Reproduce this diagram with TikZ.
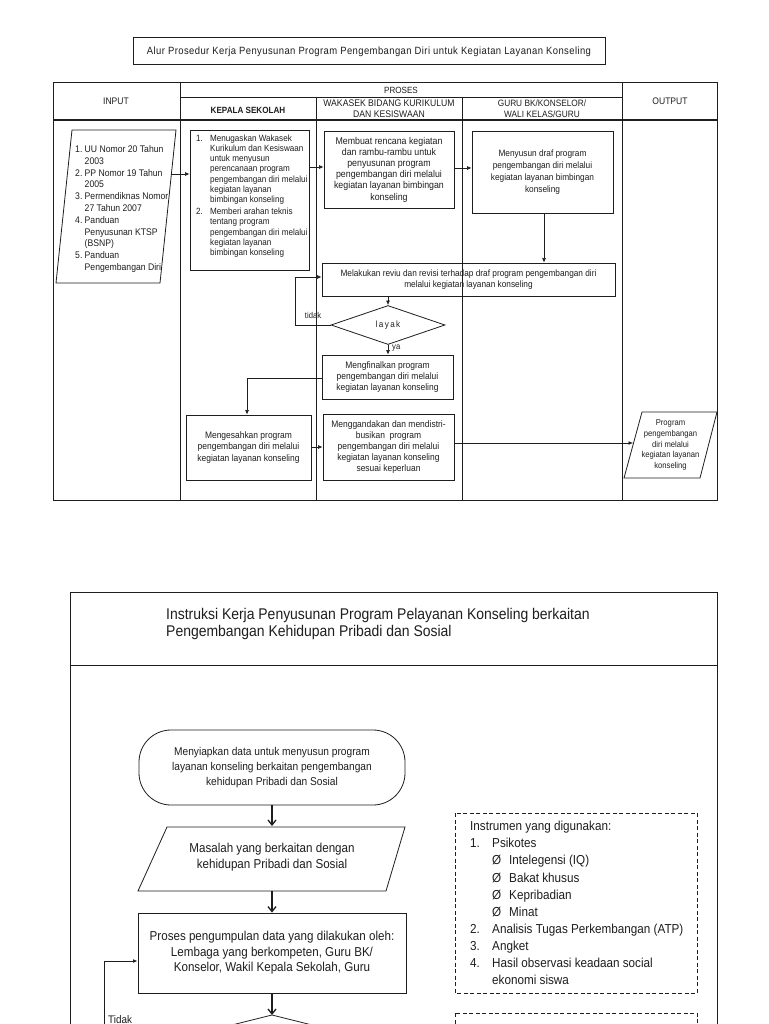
\documentclass[tikz,border=0pt]{standalone}
\usepackage{fontspec}
\setmainfont{Liberation Sans}[FakeStretch=0.9]
\usetikzlibrary{arrows.meta,shapes.geometric}
\definecolor{ink}{HTML}{1E1E1E}
\begin{document}
\begin{tikzpicture}[x=1pt,y=-1pt,
  ln/.style={draw=ink,line width=0.8pt},
  arr/.style={draw=ink,line width=0.6pt,-{Latex[length=4.5pt,width=3.8pt]}},
  barr/.style={draw=ink,line width=1.3pt,-{Straight Barb[length=5pt,width=8pt]}},
  box/.style={draw=ink,line width=0.8pt,inner sep=0pt,text=ink,align=center},
  fs/.style 2 args={font=\fontsize{#1}{#2}\selectfont},
  txt/.style={text=ink,inner sep=0pt},
  dbox/.style={draw=ink,line width=0.9pt,dash pattern=on 4pt off 2.5pt}
]
\clip (0,0) rectangle (768,1024);
\fill[white] (0,0) rectangle (768,1024);

% ---------- top: title ----------
\node[box,line width=1pt,minimum width=472pt,minimum height=27pt,fs={10.5}{12}] (title) at (369,51.5)
  {{\addfontfeature{LetterSpace=4}Alur Prosedur Kerja Penyusunan Program Pengembangan Diri untuk Kegiatan Layanan Konseling}};

% ---------- table ----------
\draw[ln] (53,82) rectangle (717,500);
\draw[ln] (180,82) -- (180,500);
\draw[ln] (622,82) -- (622,500);
\draw[ln] (316,97) -- (316,500);
\draw[ln] (462,97) -- (462,500);
\draw[ln] (180,97) -- (622,97);
\draw[ln,line width=1.1pt] (53,120) -- (717,120);

\node[txt,fs={9.5}{11}] (hin) at (116,101) {INPUT};
\node[txt,fs={9.5}{11}] (hout) at (670,101) {OUTPUT};
\node[txt,fs={9}{11}] (hpro) at (401,90) {PROSES};
\node[txt,font={\fontsize{9}{11}\selectfont\bfseries}] (hkep) at (248,110) {KEPALA SEKOLAH};
\node[txt,align=center,fs={9.6}{10.5}] (hwak) at (389,108.5) {WAKASEK BIDANG KURIKULUM\\DAN KESISWAAN};
\node[txt,align=center,fs={9.2}{10.5}] (hguru) at (542,108.5) {GURU BK/KONSELOR/\\WALI KELAS/GURU};

% ---------- input ----------
\draw[ln] (72,130) -- (176,130) -- (160,283) -- (56,283) -- cycle;
\node[txt,align=left,anchor=west,fs={9.6}{11.8}] (inp) at (75,209)
  {\makebox[9.5pt][l]{1.}UU Nomor 20 Tahun\\\makebox[9.5pt]{}2003\\
   \makebox[9.5pt][l]{2.}PP Nomor 19 Tahun\\\makebox[9.5pt]{}2005\\
   \makebox[9.5pt][l]{3.}Permendiknas Nomor\\\makebox[9.5pt]{}27 Tahun 2007\\
   \makebox[9.5pt][l]{4.}Panduan\\\makebox[9.5pt]{}Penyusunan KTSP\\\makebox[9.5pt]{}(BSNP)\\
   \makebox[9.5pt][l]{5.}Panduan\\\makebox[9.5pt]{}Pengembangan Diri};
\coordinate (inout) at (171,174);

% ---------- kepala sekolah ----------
\node[box,minimum width=119pt,minimum height=140pt] (k1) at (249.5,200) {};
\node[txt,align=left,anchor=west,fs={9}{10.2}] (k1t) at (196,196)
  {\makebox[14pt][l]{1.}Menugaskan Wakasek\\\makebox[14pt]{}Kurikulum dan Kesiswaan\\
   \makebox[14pt]{}untuk menyusun\\\makebox[14pt]{}perencanaan program\\
   \makebox[14pt]{}pengembangan diri melalui\\\makebox[14pt]{}kegiatan layanan\\
   \makebox[14pt]{}bimbingan konseling\\[2pt]
   \makebox[14pt][l]{2.}Memberi arahan teknis\\\makebox[14pt]{}tentang program\\
   \makebox[14pt]{}pengembangan diri melalui\\\makebox[14pt]{}kegiatan layanan\\
   \makebox[14pt]{}bimbingan konseling};

\node[box,minimum width=130pt,minimum height=77pt,fs={9.8}{11.2}] (w1) at (389,169.5)
  {Membuat rencana kegiatan\\dan rambu-rambu untuk\\penyusunan program\\pengembangan diri melalui\\kegiatan layanan bimbingan\\konseling};
\node[box,minimum width=141pt,minimum height=82pt,fs={9.2}{11.8}] (g1) at (542.5,172)
  {Menyusun draf program\\pengembangan diri melalui\\kegiatan layanan bimbingan\\konseling};
\node[box,minimum width=293pt,minimum height=33pt,fs={9.2}{11.7}] (rev) at (468.5,279.5)
  {Melakukan reviu dan revisi terhadap draf program pengembangan diri\\melalui kegiatan layanan konseling};
\node[draw=ink,line width=0.8pt,shape=diamond,aspect=2.9,minimum width=114pt,minimum height=39pt,inner sep=0pt,text=ink,fs={9}{10}] (lay) at (388,325)
  {{\addfontfeature{LetterSpace=15}layak}};
\node[box,minimum width=131pt,minimum height=44pt,fs={9.4}{11.3}] (fin) at (387.5,377)
  {Mengfinalkan program\\pengembangan diri melalui\\kegiatan layanan konseling};
\node[box,minimum width=125pt,minimum height=65pt,fs={9.4}{11.3}] (sah) at (248.5,447.5)
  {Mengesahkan program\\pengembangan diri melalui\\kegiatan layanan konseling};
\node[box,minimum width=131pt,minimum height=66pt,fs={9.4}{11.2}] (gand) at (388.5,447)
  {Menggandakan dan mendistri-\\busikan\ \ program\\pengembangan diri melalui\\kegiatan layanan konseling\\sesuai keperluan};

% output
\draw[ln] (642,412) -- (717,412) -- (700,478) -- (624,478) -- cycle;
\node[txt,align=center,fs={8.5}{10.8}] (outt) at (670.5,445)
  {Program\\pengembangan\\diri melalui\\kegiatan layanan\\konseling};
\coordinate (outin) at (633,443);

% arrows top
\draw[arr] (inout) -- (k1.west |- inout);
\draw[arr] (k1.east |- 0,167) -- (w1.west |- 0,167);
\draw[arr] (w1.east |- 0,168) -- (g1.west |- 0,168);
\draw[arr] (g1.south -| 544,0) -- (rev.north -| 544,0);
\draw[arr] (rev.south -| lay.north) -- (lay.north);
\draw[arr] (lay.south) -- (lay.south |- fin.north);
\draw[arr] (lay.west) -- ++(-35,0) |- (rev.west |- 0,277);
\draw[arr] (fin.west |- 0,378) -| (sah.north -| 247,0);
\draw[arr] (sah.east |- 0,447) -- (gand.west |- 0,447);
\draw[arr] (gand.east |- outin) -- (outin);
\node[txt,fs={8.5}{10}] (tidak) at (313,315) {tidak};
\node[txt,anchor=west,fs={8.5}{10}] (ya) at (392,348) {ya};

% ---------- bottom ----------
\draw[ln] (70,1030) -- (70,592) -- (717,592) -- (717,1030);
\draw[ln] (70,665) -- (717,665);
\node[txt,align=left,anchor=west,fs={15.5}{17}] (t2) at (166,623.5)
  {Instruksi Kerja Penyusunan Program Pelayanan Konseling berkaitan\\Pengembangan Kehidupan Pribadi dan Sosial};

\node[box,rounded corners=32pt,minimum width=266pt,minimum height=75pt,fs={11.3}{15.3}] (term) at (272,767.5)
  {Menyiapkan data untuk menyusun program\\layanan konseling berkaitan pengembangan\\kehidupan Pribadi dan Sosial};
\draw[ln] (167,827) -- (405,827) -- (386,891) -- (138,891) -- cycle;
\node[txt,align=center,fs={12.9}{16.6}] (part) at (272,857)
  {Masalah yang berkaitan dengan\\kehidupan Pribadi dan Sosial};
\coordinate (partop) at (272,826);
\coordinate (parbot) at (272,891);
\node[box,minimum width=268pt,minimum height=80pt,fs={12.9}{15.5}] (proc) at (272,953)
  {Proses pengumpulan data yang dilakukan oleh:\\Lembaga yang berkompeten, Guru BK/\\Konselor, Wakil Kepala Sekolah, Guru};
\coordinate (dtop) at (272,1015);
\draw[ln] (dtop) -- (392,1045) -- (272,1075) -- (152,1045) -- cycle;

\draw[barr] (term.south) -- (partop);
\draw[barr] (parbot) -- (proc.north);
\draw[barr] (proc.south) -- (dtop);
\coordinate (loopbot) at (104,1030);
\draw[arr,line width=0.9pt] (loopbot) |- (proc.west |- 0,961);
\node[txt,anchor=north west,fs={11}{13}] (tdk) at (108,1015) {Tidak};

\draw[dbox] (455,813) rectangle (697,993);
\draw[dbox] (455,1013) rectangle (697,1040);
\node[txt,align=left,anchor=west,fs={13}{17.1}] (instr) at (470,903)
  {Instrumen yang digunakan:\\
   \makebox[22pt][l]{1.}Psikotes\\
   \makebox[22pt]{}\makebox[17pt][l]{Ø}Intelegensi (IQ)\\
   \makebox[22pt]{}\makebox[17pt][l]{Ø}Bakat khusus\\
   \makebox[22pt]{}\makebox[17pt][l]{Ø}Kepribadian\\
   \makebox[22pt]{}\makebox[17pt][l]{Ø}Minat\\
   \makebox[22pt][l]{2.}Analisis Tugas Perkembangan (ATP)\\
   \makebox[22pt][l]{3.}Angket\\
   \makebox[22pt][l]{4.}Hasil observasi keadaan social\\
   \makebox[22pt]{}ekonomi siswa};
\end{tikzpicture}
\end{document}
